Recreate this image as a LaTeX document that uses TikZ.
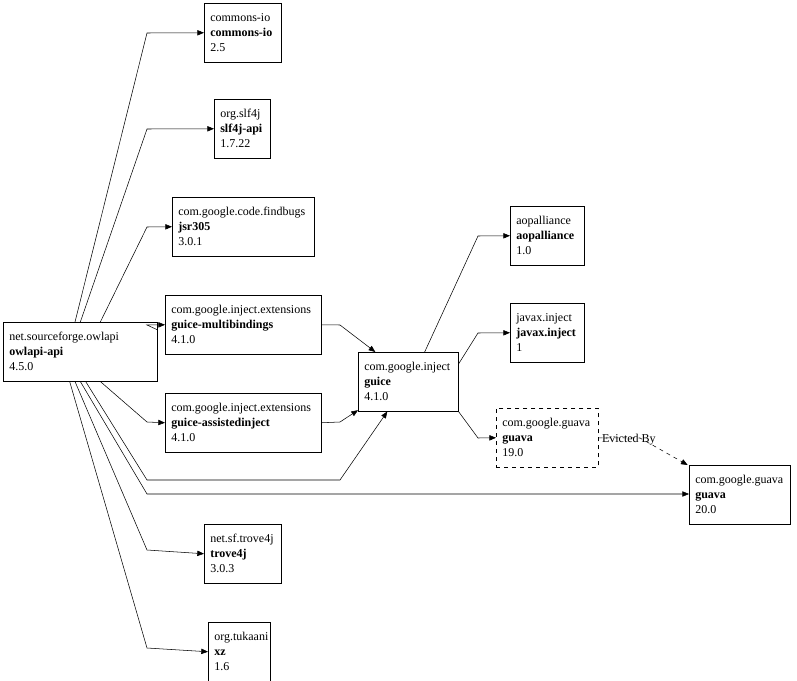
\documentclass[tikz,border=0pt]{standalone}
\usepackage{fontspec}
\setmainfont{Liberation Serif}
\usetikzlibrary{arrows.meta}
\begin{document}
\begin{tikzpicture}
        [
            x=0.75pt, y=-0.75pt,
            box/.style={rectangle,draw=black,fill=white,anchor=north west,align=left,
              inner xsep=4.5pt, inner ysep=3pt, minimum height=44.25pt,
              font=\fontsize{9}{11.25}\selectfont},
            dep/.style={-{Triangle[length=5pt,width=4pt]},black},
        ]
    \useasboundingbox (0,0) rectangle (797,681);

    \node[box,text width=106.75pt] (owl) at (3,322) {net.sourceforge.owlapi\\\textbf{owlapi-api}\\4.5.0};
    \node[box,text width=48.75pt] (cio) at (204,3) {commons-io\\\textbf{commons-io}\\2.5};
    \node[box,text width=33pt] (slf) at (214,99) {org.slf4j\\\textbf{slf4j-api}\\1.7.22};
    \node[box,text width=97.5pt] (jsr) at (172,197) {com.google.code.findbugs\\\textbf{jsr305}\\3.0.1};
    \node[box,text width=108pt] (mul) at (165,295) {com.google.inject.extensions\\\textbf{guice-multibindings}\\4.1.0};
    \node[box,text width=108pt] (ass) at (165,393) {com.google.inject.extensions\\\textbf{guice-assistedinject}\\4.1.0};
    \node[box,text width=66pt] (gui) at (358,352) {com.google.inject\\\textbf{guice}\\4.1.0};
    \node[box,text width=46.5pt] (aop) at (510,206) {aopalliance\\\textbf{aopalliance}\\1.0};
    \node[box,text width=46.5pt] (jav) at (510,303) {javax.inject\\\textbf{javax.inject}\\1};
    \node[box,dashed,text width=67.5pt] (g19) at (496,408) {com.google.guava\\\textbf{guava}\\19.0};
    \node[box,text width=66.75pt] (g20) at (689,465) {com.google.guava\\\textbf{guava}\\20.0};
    \node[box,text width=48.75pt] (tro) at (204,524) {net.sf.trove4j\\\textbf{trove4j}\\3.0.3};
    \node[box,text width=37.5pt] (xz) at (208,622) {org.tukaani\\\textbf{xz}\\1.6};

    % owlapi-api dependencies
    \draw[dep] ([xshift=54pt]owl.north west) -- (147,33) -- (cio.west);
    \draw[dep] ([xshift=58pt]owl.north west) -- (147,129) -- (slf.west);
    \draw[dep] ([xshift=73pt]owl.north west) -- (147,227) -- (jsr.west);
    \draw[dep] ([yshift=-6pt]owl.north east) -- (147,325) -- (mul.west);
    \draw[dep] ([xshift=73pt]owl.south west) -- (147,422) -- (ass.west);
    \draw[dep] ([xshift=62pt]owl.south west) -- (147,480) -- (340,480) -- ([xshift=22pt]gui.south west);
    \draw[dep] ([xshift=58pt]owl.south west) -- (147,494) -- (g20.west |- 0,494);
    \draw[dep] ([xshift=54pt]owl.south west) -- (147,550) -- (tro.west);
    \draw[dep] ([xshift=50pt]owl.south west) -- (147,648) -- (xz.west);

    % guice dependencies
    \draw[dep] (mul.east) -- (340,325) -- ([xshift=13pt]gui.north west);
    \draw[dep] (ass.east) -- (340,422) -- ([yshift=1pt]gui.south west);
    \draw[dep] ([xshift=50pt]gui.north west) -- (478,236) -- (aop.west);
    \draw[dep] ([yshift=-9pt]gui.north east) -- (478,333) -- (jav.west);
    \draw[dep] (gui.south east) -- (478,438) -- (g19.west);

    % eviction
    \draw[dep,dashed] (g19.east) -- (640,438) -- ([xshift=-1pt]g20.north west)
        node[pos=0.4,above left=-1pt,font=\fontsize{9}{11}\selectfont] {Evicted By};
\end{tikzpicture}
\end{document}
